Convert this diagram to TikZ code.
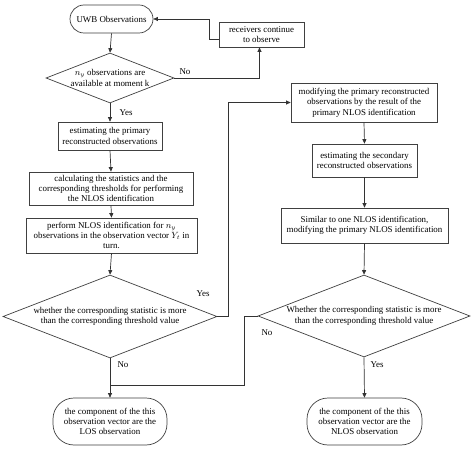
\documentclass[tikz,border=0pt]{standalone}
\usepackage{fontspec}
\setmainfont{Liberation Serif}
\usetikzlibrary{shapes.geometric,arrows.meta}
\begin{document}
\begin{tikzpicture}[x=1pt,y=-1pt,
  font=\fontsize{8.9}{10.4}\selectfont,
  box/.style={draw=black!75,line width=0.7pt,align=center,inner sep=1pt},
  term/.style={box},
  dec/.style={draw=black!75,line width=0.7pt,shape=diamond,align=center,inner sep=0pt},
  arr/.style={draw=black!80,line width=0.7pt,-{Triangle[length=4.5pt,width=4pt]}},
  ln/.style={draw=black!80,line width=0.7pt},
  lab/.style={font=\fontsize{8.9}{10}\selectfont,inner sep=0pt}]
\useasboundingbox (0,0) rectangle (474,449);
\fill[white] (0,0) rectangle (474,449);
% left column
\node[term,rounded corners=14pt,minimum width=83pt,minimum height=28pt] (uwb) at (111.5,19) {UWB Observations};
\node[dec,aspect=2.56,minimum width=128pt,minimum height=50pt] (d1) at (110,78) {$n_y$ observations are\\available at moment k};
\node[box,minimum width=85pt,minimum height=25pt] (recv) at (261.5,34.5) {receivers continue\\to observe};
\node[box,minimum width=104pt,minimum height=28pt] (b1) at (110,136) {estimating the primary\\reconstructed observations};
\node[box,minimum width=164pt,minimum height=33pt] (b2) at (111,188.5) {calculating the statistics and the\\corresponding thresholds for performing\\the NLOS identification};
\node[box,minimum width=171pt,minimum height=35pt] (b3) at (111.5,235.5) {perform NLOS identification for $n_y$\\observations in the observation vector $Y_t$ in\\turn.};
\node[dec,aspect=2.58,minimum width=214pt,minimum height=83pt] (d2) at (110,316.5) {whether the corresponding statistic is more\\than the corresponding threshold value};
\node[term,rounded corners=21pt,minimum width=114pt,minimum height=47pt] (los) at (110,421.5) {the component of the this\\observation vector are the\\LOS observation};
% right column
\node[box,minimum width=146pt,minimum height=39pt] (b4) at (364,102.5) {modifying the primary reconstructed\\observations by the result of the\\primary NLOS identification};
\node[box,minimum width=105pt,minimum height=33pt] (b5) at (364.5,160.5) {estimating the secondary\\reconstructed observations};
\node[box,minimum width=167pt,minimum height=35pt] (b6) at (364.5,225.5) {Similar to one NLOS identification,\\modifying the primary NLOS identification};
\node[dec,aspect=2.58,minimum width=212pt,minimum height=82pt] (d3) at (364,316) {Whether the corresponding statistic is more\\than the corresponding threshold value};
\node[term,rounded corners=21pt,minimum width=115pt,minimum height=47pt] (nlos) at (364.5,421.5) {the component of the this\\observation vector are the\\NLOS observation};
\coordinate (m) at (110,385);
% connectors
\draw[arr] (uwb.south) -- (d1.north);
\draw[arr] (d1.east) -| ([xshift=-2pt]recv.south);
\draw[arr] ([yshift=-5pt]recv.west) -- ++(-9,0) |- (uwb.east);
\draw[arr] (d1.south) -- (b1.north);
\draw[arr] (b1.south) -- (b2.north);
\draw[arr] (b2.south) -- (b3.north);
\draw[arr] (b3.south) -- (d2.north);
\draw[arr] (d2.east) -- ++(11,0) |- (b4.west);
\draw[arr] (d2.south) -- (los.north);
\draw[ln] (d3.west) -- ++(-13,0) |- (m);
\draw[arr] (b4.south) -- (b5.north);
\draw[arr] (b5.south) -- (b6.north);
\draw[arr] (b6.south) -- (d3.north);
\draw[arr] (d3.south) -- (nlos.north);
% labels
\node[lab] (l1) at (185,72) {No};
\node[lab] (l2) at (126,113) {Yes};
\node[lab] (l3) at (203,294) {Yes};
\node[lab] (l4) at (123,365) {No};
\node[lab] (l5) at (267,333) {No};
\node[lab] (l6) at (377,365) {Yes};
\end{tikzpicture}
\end{document}
